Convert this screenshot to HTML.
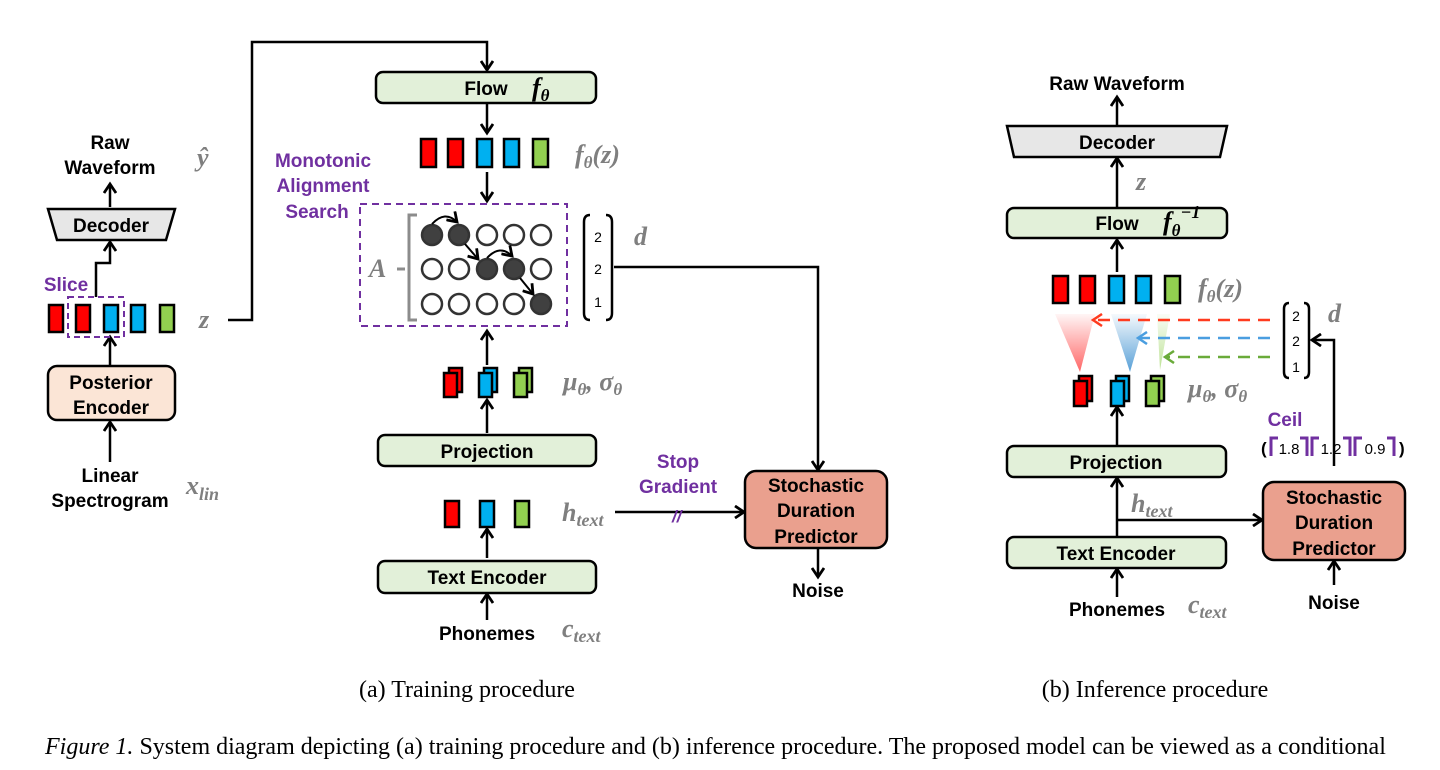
<!DOCTYPE html>
<html><head><meta charset="utf-8"><style>
html,body{margin:0;padding:0;background:#fff;}
svg{display:block;}
.b{font-family:"Liberation Sans",sans-serif;font-weight:bold;font-size:19px;fill:#000;text-anchor:middle;}
.p{font-family:"Liberation Sans",sans-serif;font-weight:bold;font-size:19px;fill:#7030a0;text-anchor:middle;}
.m{font-family:"Liberation Serif",serif;font-style:italic;font-weight:bold;font-size:26px;fill:#7f7f7f;}
.s{font-family:"Liberation Serif",serif;font-size:24px;fill:#000;}
.n{font-family:"Liberation Sans",sans-serif;font-size:14px;fill:#000;text-anchor:middle;}
</style></head><body>
<svg width="1440" height="770" viewBox="0 0 1440 770" xmlns="http://www.w3.org/2000/svg">
<defs>
<marker id="ah" markerWidth="14" markerHeight="14" refX="11" refY="7" orient="auto" markerUnits="userSpaceOnUse"><path d="M2,1 L11,7 L2,13" fill="none" stroke="#000" stroke-width="2.8"/></marker>
<marker id="ar" markerWidth="14" markerHeight="14" refX="11" refY="7" orient="auto" markerUnits="userSpaceOnUse"><path d="M2,1 L11,7 L2,13" fill="none" stroke="#ff3b1f" stroke-width="2.5"/></marker>
<marker id="ab" markerWidth="14" markerHeight="14" refX="11" refY="7" orient="auto" markerUnits="userSpaceOnUse"><path d="M2,1 L11,7 L2,13" fill="none" stroke="#4a9ee0" stroke-width="2.5"/></marker>
<marker id="ag" markerWidth="14" markerHeight="14" refX="11" refY="7" orient="auto" markerUnits="userSpaceOnUse"><path d="M2,1 L11,7 L2,13" fill="none" stroke="#6aab3a" stroke-width="2.5"/></marker>
<linearGradient id="gr" x1="0" y1="0" x2="0" y2="1"><stop offset="0" stop-color="#ff4040" stop-opacity="0.05"/><stop offset="1" stop-color="#ff4040" stop-opacity="0.8"/></linearGradient>
<linearGradient id="gb" x1="0" y1="0" x2="0" y2="1"><stop offset="0" stop-color="#3a8fd0" stop-opacity="0.05"/><stop offset="1" stop-color="#3a8fd0" stop-opacity="0.85"/></linearGradient>
<linearGradient id="gg" x1="0" y1="0" x2="0" y2="1"><stop offset="0" stop-color="#92d050" stop-opacity="0.05"/><stop offset="1" stop-color="#92d050" stop-opacity="0.6"/></linearGradient>
</defs>
<g stroke="#000" stroke-width="2.5" fill="none">
<line x1="110" y1="207" x2="110" y2="184" marker-end="url(#ah)"/>
<polyline points="96,297 96,263 110,263 110,242" marker-end="url(#ah)"/>
<line x1="110" y1="365" x2="110" y2="337" marker-end="url(#ah)"/>
<line x1="110" y1="462" x2="110" y2="422" marker-end="url(#ah)"/>
<polyline points="228,320 252,320 252,42 487,42 487,70" marker-end="url(#ah)"/>
<line x1="487" y1="104" x2="487" y2="133" marker-end="url(#ah)"/>
<line x1="487" y1="172" x2="487" y2="201" marker-end="url(#ah)"/>
<line x1="487" y1="365" x2="487" y2="331" marker-end="url(#ah)"/>
<line x1="487" y1="433" x2="487" y2="400" marker-end="url(#ah)"/>
<line x1="487" y1="558" x2="487" y2="529" marker-end="url(#ah)"/>
<line x1="487" y1="620" x2="487" y2="594" marker-end="url(#ah)"/>
<polyline points="614,267 818,267 818,470" marker-end="url(#ah)"/>
<line x1="615" y1="512" x2="744" y2="512" marker-end="url(#ah)"/>
<line x1="818" y1="549" x2="818" y2="577" marker-end="url(#ah)"/>
<line x1="1117" y1="126" x2="1117" y2="97" marker-end="url(#ah)"/>
<line x1="1117" y1="207" x2="1117" y2="158" marker-end="url(#ah)"/>
<line x1="1117" y1="272" x2="1117" y2="240" marker-end="url(#ah)"/>
<line x1="1117" y1="445" x2="1117" y2="407" marker-end="url(#ah)"/>
<line x1="1117" y1="537" x2="1117" y2="478" marker-end="url(#ah)"/>
<polyline points="1117,520 1262,520" marker-end="url(#ah)"/>
<line x1="1117" y1="597" x2="1117" y2="569" marker-end="url(#ah)"/>
<line x1="1334" y1="585" x2="1334" y2="561" marker-end="url(#ah)"/>
<polyline points="1334,466 1334,340 1312,340" marker-end="url(#ah)"/>
</g>
<text class="b" x="110" y="149">Raw</text>
<text class="b" x="110" y="174">Waveform</text>
<polygon points="48,209 175,209 166,240 57,240" fill="#e7e7e7" stroke="#000" stroke-width="2.5"/>
<text class="b" x="111" y="232">Decoder</text>
<text class="p" x="66" y="291">Slice</text>
<g stroke="#000" stroke-width="2.5">
<rect x="49" y="305" width="14" height="27" fill="#ff0000"/>
<rect x="76" y="305" width="14" height="27" fill="#ff0000"/>
<rect x="104" y="305" width="14" height="27" fill="#00b0f0"/>
<rect x="131" y="305" width="14" height="27" fill="#00b0f0"/>
<rect x="160" y="305" width="14" height="27" fill="#92d050"/>
</g>
<rect x="68" y="297" width="56" height="40" fill="none" stroke="#7030a0" stroke-width="2" stroke-dasharray="6,4"/>
<text class="m" x="199" y="328">z</text>
<text class="m" x="197" y="166">ŷ</text>
<rect x="48" y="366" width="127" height="54" rx="9" fill="#fbe5d6" stroke="#000" stroke-width="2.5"/>
<text class="b" x="111" y="389">Posterior</text>
<text class="b" x="111" y="414">Encoder</text>
<text class="b" x="110" y="482">Linear</text>
<text class="b" x="110" y="507">Spectrogram</text>
<text class="m" x="186" y="494">x<tspan font-size="18" dy="6">lin</tspan></text>
<rect x="376" y="72" width="220" height="31" rx="7" fill="#e2f0d9" stroke="#000" stroke-width="2.5"/>
<text class="b" x="486" y="95">Flow</text>
<text class="m" x="532" y="96" style="fill:#000">f<tspan font-size="17" dy="5">θ</tspan></text>
<g stroke="#000" stroke-width="2.5">
<rect x="421" y="139" width="15" height="28" fill="#ff0000"/>
<rect x="448" y="139" width="15" height="28" fill="#ff0000"/>
<rect x="477" y="139" width="15" height="28" fill="#00b0f0"/>
<rect x="504" y="139" width="15" height="28" fill="#00b0f0"/>
<rect x="533" y="139" width="15" height="28" fill="#92d050"/>
</g>
<text class="m" x="575" y="163">f<tspan font-size="17" dy="5">θ</tspan><tspan dy="-5">(z)</tspan></text>
<text class="p" x="323" y="167">Monotonic</text>
<text class="p" x="323" y="192">Alignment</text>
<text class="p" x="317" y="218">Search</text>
<rect x="360" y="204" width="207" height="122" fill="none" stroke="#7030a0" stroke-width="2" stroke-dasharray="7,5"/>
<text class="m" x="369" y="277">A</text>
<path d="M397,269 H405 M417,215 H409 V320 H417" fill="none" stroke="#8c8c8c" stroke-width="3"/>
<g stroke="#333" stroke-width="2.5" fill="#fff">
<circle cx="432" cy="235" r="10" fill="#404040"/><circle cx="459" cy="235" r="10" fill="#404040"/><circle cx="487" cy="235" r="10"/><circle cx="514" cy="235" r="10"/><circle cx="541" cy="235" r="10"/>
<circle cx="432" cy="269" r="10"/><circle cx="459" cy="269" r="10"/><circle cx="487" cy="269" r="10" fill="#404040"/><circle cx="514" cy="269" r="10" fill="#404040"/><circle cx="541" cy="269" r="10"/>
<circle cx="432" cy="304" r="10"/><circle cx="459" cy="304" r="10"/><circle cx="487" cy="304" r="10"/><circle cx="514" cy="304" r="10"/><circle cx="541" cy="304" r="10" fill="#404040"/>
</g>
<g stroke="#000" stroke-width="2" fill="none">
<path d="M432,224 Q445,210 457,222" marker-end="url(#ah)"/>
<path d="M487,258 Q500,244 512,256" marker-end="url(#ah)"/>
<line x1="465" y1="244" x2="478" y2="259" marker-end="url(#ah)"/>
<line x1="520" y1="278" x2="533" y2="294" marker-end="url(#ah)"/>
<path d="M590,215 Q584,215 584,222 V313 Q584,320 590,320" stroke-width="2.5"/>
<path d="M606,215 Q612,215 612,222 V313 Q612,320 606,320" stroke-width="2.5"/>
</g>
<text class="n" x="598" y="242">2</text><text class="n" x="598" y="274">2</text><text class="n" x="598" y="307">1</text>
<text class="m" x="634" y="245">d</text>
<g stroke="#000" stroke-width="2.5">
<rect x="449" y="368" width="13" height="24" fill="#ff0000"/><rect x="444" y="373" width="13" height="24" fill="#ff0000"/>
<rect x="484" y="368" width="13" height="24" fill="#00b0f0"/><rect x="479" y="373" width="13" height="24" fill="#00b0f0"/>
<rect x="519" y="368" width="13" height="24" fill="#92d050"/><rect x="514" y="373" width="13" height="24" fill="#92d050"/>
</g>
<text class="m" x="563" y="390">μ<tspan font-size="17" dy="5">θ</tspan><tspan dy="-5">, σ</tspan><tspan font-size="17" dy="5">θ</tspan></text>
<rect x="378" y="435" width="218" height="31" rx="7" fill="#e2f0d9" stroke="#000" stroke-width="2.5"/>
<text class="b" x="487" y="458">Projection</text>
<g stroke="#000" stroke-width="2.5">
<rect x="445" y="501" width="14" height="26" fill="#ff0000"/>
<rect x="480" y="501" width="14" height="26" fill="#00b0f0"/>
<rect x="515" y="501" width="14" height="26" fill="#92d050"/>
</g>
<text class="m" x="562" y="521">h<tspan font-size="18" dy="5">text</tspan></text>
<rect x="378" y="561" width="218" height="32" rx="7" fill="#e2f0d9" stroke="#000" stroke-width="2.5"/>
<text class="b" x="487" y="584">Text Encoder</text>
<text class="b" x="487" y="640">Phonemes</text>
<text class="m" x="562" y="637">c<tspan font-size="18" dy="5">text</tspan></text>
<text class="p" x="678" y="468">Stop</text>
<text class="p" x="678" y="493">Gradient</text>
<text x="672" y="522" style="font-family:'Liberation Sans',sans-serif;font-style:italic;font-weight:bold;font-size:17px;fill:#7030a0">//</text>
<rect x="745" y="471" width="142" height="77" rx="11" fill="#eaa08e" stroke="#000" stroke-width="2.5"/>
<text class="b" x="816" y="492">Stochastic</text>
<text class="b" x="816" y="517">Duration</text>
<text class="b" x="816" y="543">Predictor</text>
<text class="b" x="818" y="597">Noise</text>
<text class="b" x="1117" y="90">Raw Waveform</text>
<polygon points="1007,126 1227,126 1220,157 1014,157" fill="#e7e7e7" stroke="#000" stroke-width="2.5"/>
<text class="b" x="1117" y="149">Decoder</text>
<text class="m" x="1136" y="190">z</text>
<rect x="1007" y="208" width="220" height="30" rx="7" fill="#e2f0d9" stroke="#000" stroke-width="2.5"/>
<text class="b" x="1117" y="230">Flow</text>
<text class="m" x="1163" y="230" style="fill:#000">f<tspan font-size="17" dy="6">θ</tspan><tspan font-size="18" dy="-18">−1</tspan></text>
<g stroke="#000" stroke-width="2.5">
<rect x="1053" y="276" width="15" height="27" fill="#ff0000"/>
<rect x="1080" y="276" width="15" height="27" fill="#ff0000"/>
<rect x="1109" y="276" width="15" height="27" fill="#00b0f0"/>
<rect x="1136" y="276" width="15" height="27" fill="#00b0f0"/>
<rect x="1165" y="276" width="15" height="27" fill="#92d050"/>
</g>
<text class="m" x="1198" y="297">f<tspan font-size="17" dy="5">θ</tspan><tspan dy="-5">(z)</tspan></text>
<polygon points="1055,314 1095,314 1080,372" fill="url(#gr)"/>
<polygon points="1111,314 1147,314 1130,372" fill="url(#gb)"/>
<polygon points="1157,314 1170,314 1160,370" fill="url(#gg)"/>
<line x1="1270" y1="320" x2="1093" y2="320" stroke="#ff3b1f" stroke-width="2.5" stroke-dasharray="12,8" marker-end="url(#ar)"/>
<line x1="1270" y1="338" x2="1138" y2="338" stroke="#4a9ee0" stroke-width="2.5" stroke-dasharray="12,8" marker-end="url(#ab)"/>
<line x1="1270" y1="357" x2="1165" y2="357" stroke="#6aab3a" stroke-width="2.5" stroke-dasharray="12,8" marker-end="url(#ag)"/>
<g stroke="#000" stroke-width="2.5" fill="none">
<path d="M1289,303 Q1284,303 1284,309 V372 Q1284,378 1289,378"/>
<path d="M1304,303 Q1309,303 1309,309 V372 Q1309,378 1304,378"/>
</g>
<text class="n" x="1296" y="321">2</text><text class="n" x="1296" y="346">2</text><text class="n" x="1296" y="372">1</text>
<text class="m" x="1328" y="322">d</text>
<g stroke="#000" stroke-width="2.5">
<rect x="1079" y="376" width="13" height="25" fill="#ff0000"/><rect x="1074" y="381" width="13" height="25" fill="#ff0000"/>
<rect x="1116" y="376" width="13" height="25" fill="#00b0f0"/><rect x="1111" y="381" width="13" height="25" fill="#00b0f0"/>
<rect x="1151" y="376" width="13" height="25" fill="#92d050"/><rect x="1146" y="381" width="13" height="25" fill="#92d050"/>
</g>
<text class="m" x="1188" y="397">μ<tspan font-size="17" dy="5">θ</tspan><tspan dy="-5">, σ</tspan><tspan font-size="17" dy="5">θ</tspan></text>
<text class="p" x="1285" y="426">Ceil</text>
<text x="1261" y="454" style="font-family:'Liberation Sans',sans-serif;font-size:17px;font-weight:bold">(</text>
<text x="1399" y="454" style="font-family:'Liberation Sans',sans-serif;font-size:17px;font-weight:bold">)</text>
<g stroke="#7030a0" stroke-width="3" fill="none">
<path d="M1271,456 V438 H1278"/><path d="M1300,438 H1307 V456"/>
<path d="M1312,456 V438 H1319"/><path d="M1343,438 H1350 V456"/>
<path d="M1355,456 V438 H1362"/><path d="M1387,438 H1394 V456"/>
</g>
<text x="1289" y="454" text-anchor="middle" style="font-family:'Liberation Sans',sans-serif;font-size:15px">1.8</text>
<text x="1331" y="454" text-anchor="middle" style="font-family:'Liberation Sans',sans-serif;font-size:15px">1.2</text>
<text x="1375" y="454" text-anchor="middle" style="font-family:'Liberation Sans',sans-serif;font-size:15px">0.9</text>
<rect x="1007" y="446" width="219" height="31" rx="7" fill="#e2f0d9" stroke="#000" stroke-width="2.5"/>
<text class="b" x="1116" y="469">Projection</text>
<text class="m" x="1131" y="512">h<tspan font-size="18" dy="5">text</tspan></text>
<rect x="1007" y="537" width="219" height="31" rx="7" fill="#e2f0d9" stroke="#000" stroke-width="2.5"/>
<text class="b" x="1116" y="560">Text Encoder</text>
<text class="b" x="1117" y="616">Phonemes</text>
<text class="m" x="1188" y="613">c<tspan font-size="18" dy="5">text</tspan></text>
<rect x="1263" y="482" width="142" height="78" rx="11" fill="#eaa08e" stroke="#000" stroke-width="2.5"/>
<text class="b" x="1334" y="504">Stochastic</text>
<text class="b" x="1334" y="529">Duration</text>
<text class="b" x="1334" y="555">Predictor</text>
<text class="b" x="1334" y="609">Noise</text>
<text class="s" x="467" y="697" text-anchor="middle">(a) Training procedure</text>
<text class="s" x="1155" y="697" text-anchor="middle">(b) Inference procedure</text>
<text class="s" x="45" y="754"><tspan font-style="italic">Figure 1.</tspan> System diagram depicting (a) training procedure and (b) inference procedure. The proposed model can be viewed as a conditional</text>
</svg>
</body></html>
